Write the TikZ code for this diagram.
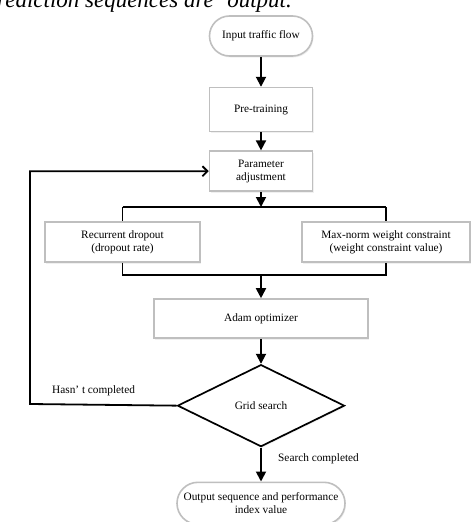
\documentclass[tikz,border=0pt]{standalone}
\usepackage{fontspec}
\setmainfont{Liberation Serif}
\usepackage{tikz}
\usetikzlibrary{positioning,shapes.geometric,arrows.meta,shadows}

\begin{document}
\begin{tikzpicture}[
x=1pt, y=-1pt,
font=\fontsize{11.3}{13}\selectfont,
stepbox/.style={rectangle, draw=black!25, line width=1.6pt, fill=white, inner sep=0pt, align=center,
  minimum height=40pt, drop shadow={opacity=0.12, shadow xshift=1pt, shadow yshift=-1.5pt}},
termbox/.style={stepbox, rounded corners=20pt},
choice/.style={diamond, draw=black, line width=1.7pt, fill=white, inner sep=0pt, aspect=2,
  minimum width=167pt, minimum height=82pt, drop shadow={opacity=0.1, shadow xshift=1pt, shadow yshift=-1.5pt}},
flow/.style={line width=1.8pt, -{Triangle[length=10pt,width=10pt]}},
link/.style={line width=1.8pt},
back/.style={line width=1.8pt, -{Straight Barb[length=5pt,width=10pt]}},
]
\useasboundingbox (0,0) rectangle (474,522);

\node[anchor=base west, font=\fontsize{23}{23}\selectfont\itshape, inner sep=0pt] (cap) at (-3,7) {rediction sequences are ‘output.};

\node[termbox, minimum width=103pt] (input) at (261,36) {Input traffic flow};
\node[stepbox, minimum width=103pt, minimum height=44pt, below=30pt of input] (pre) {Pre-training};
\node[stepbox, minimum width=103pt, below=18pt of pre] (param) {Parameter\\adjustment};
\node[stepbox, minimum width=155pt] (drop) at (122.5,242) {Recurrent dropout\\(dropout rate)};
\node[stepbox, minimum width=168pt] (norm) at (386,242) {Max-norm weight constraint\\(weight constraint value)};
\node[stepbox, minimum width=214pt, minimum height=39pt] (adam) at (261,318.5) {Adam optimizer};
\node[choice, below=25pt of adam] (grid) {Grid search};
\node[termbox, minimum width=168pt, minimum height=42pt, rounded corners=21pt, below=34pt of grid] (out) {Output sequence and performance\\index value};

\coordinate (split) at (261,207);
\coordinate (join) at (261,275);
\coordinate (loop) at (30,404);

\node[anchor=base west, inner sep=0pt] (notyet) at (52,393) {Hasn’ t completed};
\node[anchor=base west, inner sep=0pt] (done) at (278,461) {Search completed};

\draw[flow] (input) -- (pre);
\draw[flow] (pre) -- (param);
\draw[flow] (param) -- (split);
\draw[link] (split -| drop) -- (split -| norm);
\draw[link] (split -| drop) -- (drop.north);
\draw[link] (split -| norm) -- (norm.north);
\draw[link] (drop.south) -- (join -| drop) -- (join -| norm) -- (norm.south);
\draw[flow] (join) -- (adam);
\draw[flow] (adam) -- (grid);
\draw[flow] (grid) -- (out);
\draw[back] (grid.west) -- (loop) |- (param.west);
\end{tikzpicture}
\end{document}
